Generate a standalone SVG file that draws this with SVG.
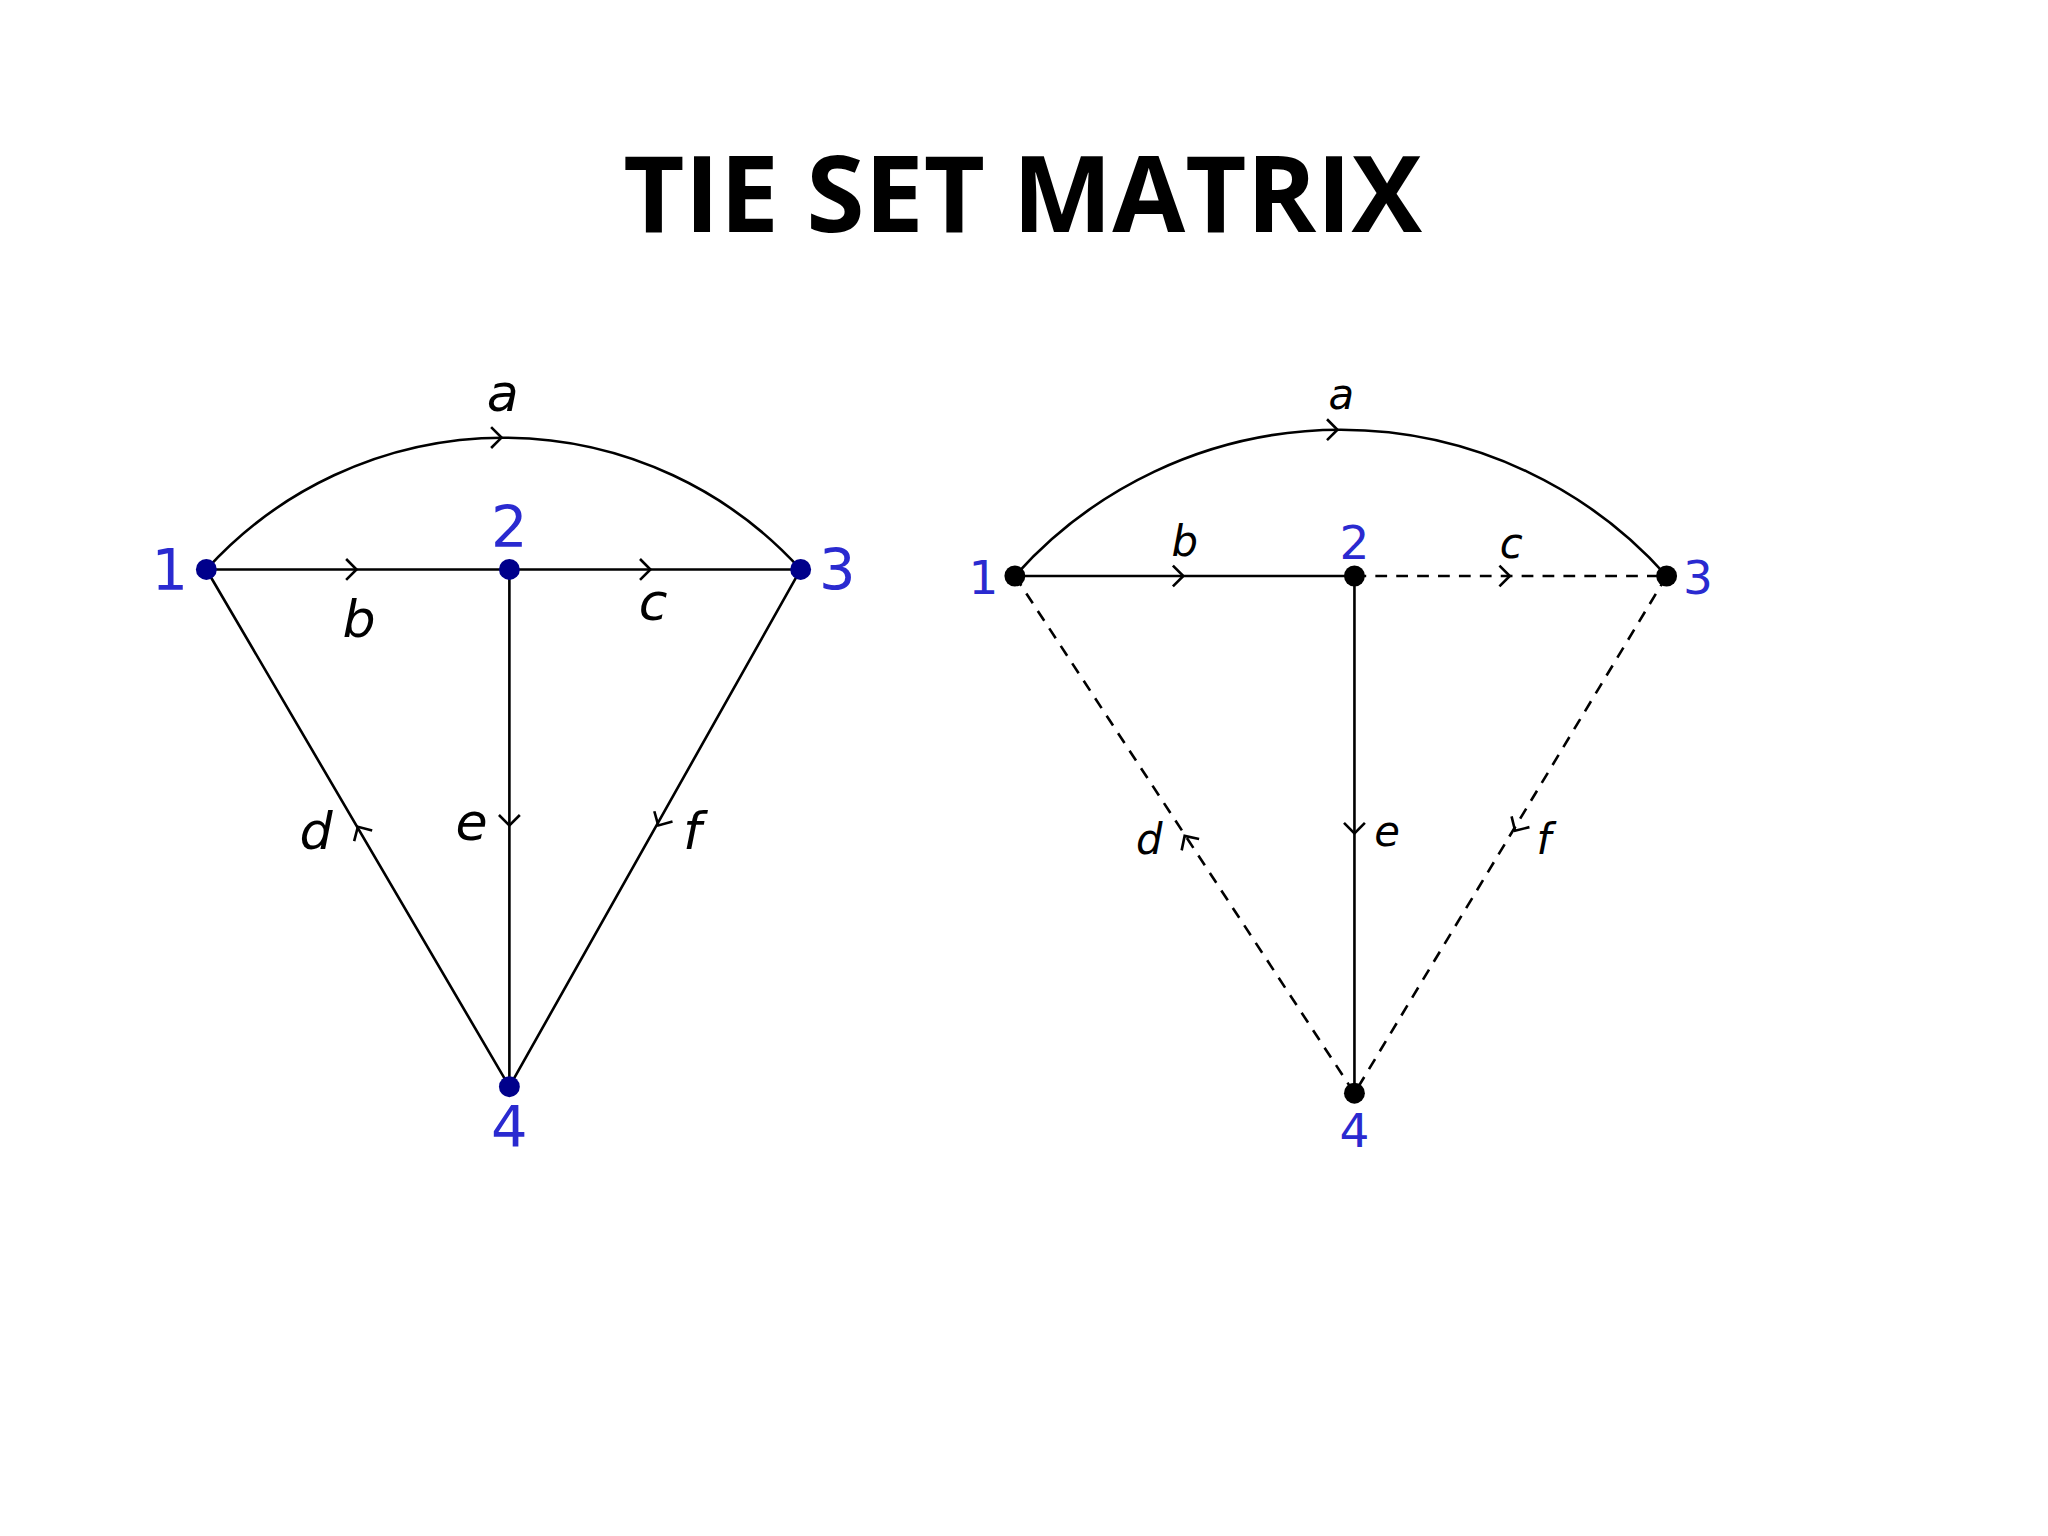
<svg xmlns="http://www.w3.org/2000/svg" width="2048" height="1536" viewBox="0 0 2048 1536">
<style>
.e{fill:none;stroke:#000;stroke-width:2}
.d{stroke-dasharray:9 7}
.ch{fill:none;stroke:#000;stroke-width:2}
.lb{font-family:"DejaVu Sans",sans-serif;font-style:italic;fill:#000;text-anchor:middle}
.nm{font-family:"DejaVu Sans",sans-serif;fill:#2a2ad0;text-anchor:middle}
.t{font-family:"Open Sans","Liberation Sans",sans-serif;font-weight:bold;text-anchor:middle}
</style>
<defs><path id="chev" d="M-8,-8 L0,0 L-8,8"/></defs>
<rect width="2048" height="1536" fill="#fff"/>
<g transform="scale(1.30612)">
<text class="t" x="783" y="178" font-size="81">TIE SET MATRIX</text>
<g id="connectors">
<path class="e" d="M158,436 A307,307 0 0 1 613,436"/>
<path class="e" d="M158,436 H613 M390,436 V832 M158,436 L390,832 L613,436"/>
<g class="ch">
<use href="#chev" transform="translate(384,335)"/>
<use href="#chev" transform="translate(273,436)"/>
<use href="#chev" transform="translate(498,436)"/>
<use href="#chev" transform="translate(390,632) rotate(90)"/>
<use href="#chev" transform="translate(274,633) rotate(-120.4)"/>
<use href="#chev" transform="translate(504,632) rotate(119.4)"/>
</g>
<path class="e" d="M777,441 A334,334 0 0 1 1276,441"/>
<path class="e" d="M777,441 H1037 M1037,441 V837"/>
<path class="e d" d="M1037,441 H1276 M777,441 L1037,837 M1276,441 L1037,837"/>
<g class="ch">
<use href="#chev" transform="translate(1024,329)"/>
<use href="#chev" transform="translate(906,441)"/>
<use href="#chev" transform="translate(1156,441)"/>
<use href="#chev" transform="translate(1037,638) rotate(90)"/>
<use href="#chev" transform="translate(907,640) rotate(-123.3)"/>
<use href="#chev" transform="translate(1160,636) rotate(121.1)"/>
</g>
</g>
<g id="n1"><circle cx="158" cy="436" r="8" fill="#00008b"/><text class="nm" x="130" y="452" font-size="44">1</text></g>
<g id="n2"><circle cx="390" cy="436" r="8" fill="#00008b"/><text class="nm" x="390" y="419" font-size="44">2</text></g>
<g id="n3"><circle cx="613" cy="436" r="8" fill="#00008b"/><text class="nm" x="641" y="452" font-size="44">3</text></g>
<g id="n4"><circle cx="390" cy="832" r="8" fill="#00008b"/><text class="nm" x="390" y="878" font-size="44">4</text></g>
<g id="lbl-left">
<text class="lb" x="385" y="315" font-size="40">a</text>
<text class="lb" x="275" y="488" font-size="40">b</text>
<text class="lb" x="500" y="475" font-size="40">c</text>
<text class="lb" x="242" y="650" font-size="40">d</text>
<text class="lb" x="361" y="643" font-size="40">e</text>
<text class="lb" x="530" y="650" font-size="40">f</text>
</g>
<g id="m1"><circle cx="777" cy="441" r="8" fill="#000"/><text class="nm" x="753" y="455" font-size="36">1</text></g>
<g id="m2"><circle cx="1037" cy="441" r="8" fill="#000"/><text class="nm" x="1037" y="428" font-size="36">2</text></g>
<g id="m3"><circle cx="1276" cy="441" r="8" fill="#000"/><text class="nm" x="1300" y="455" font-size="36">3</text></g>
<g id="m4"><circle cx="1037" cy="837" r="8" fill="#000"/><text class="nm" x="1037" y="878" font-size="36">4</text></g>
<g id="lbl-right">
<text class="lb" x="1027" y="313" font-size="32">a</text>
<text class="lb" x="907" y="426" font-size="32">b</text>
<text class="lb" x="1157" y="427" font-size="32">c</text>
<text class="lb" x="880" y="654" font-size="32">d</text>
<text class="lb" x="1062" y="648" font-size="32">e</text>
<text class="lb" x="1182" y="654" font-size="32">f</text>
</g>
</g>
</svg>
